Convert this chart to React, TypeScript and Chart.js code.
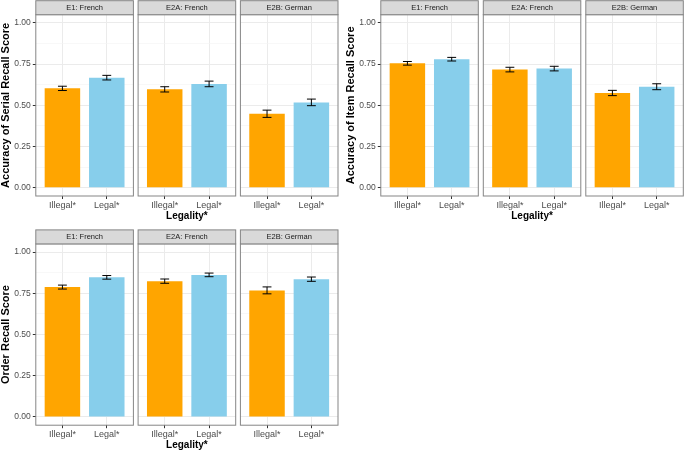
import React, { useEffect, useRef } from "react";
import { Chart, registerables } from "chart.js";

Chart.register(...registerables);

const FONT = '"Liberation Sans", Arial, Helvetica, sans-serif';

// Facet labels and x categories
const experiments = ["E1: French", "E2A: French", "E2B: German"];
const legalityLabels = ["Illegal*", "Legal*"];
const barColors = ["#FFA500", "#87CEEB"];

// y grid: majors every 0.25, minors halfway between
const yGridValues = [0, 0.125, 0.25, 0.375, 0.5, 0.625, 0.75, 0.875, 1];
const yMajorValues = [0, 0.25, 0.5, 0.75, 1];

// Serial recall accuracy (mean, standard error), one entry per experiment
const serialIllegal = [0.603, 0.597, 0.449];
const serialLegal = [0.668, 0.63, 0.518];
const serialIllegalSE = [0.013, 0.016, 0.022];
const serialLegalSE = [0.014, 0.017, 0.02];

// Item recall accuracy
const itemIllegal = [0.755, 0.717, 0.575];
const itemLegal = [0.78, 0.723, 0.613];
const itemIllegalSE = [0.011, 0.014, 0.016];
const itemLegalSE = [0.011, 0.014, 0.018];

// Order recall score
const orderIllegal = [0.788, 0.824, 0.768];
const orderLegal = [0.847, 0.862, 0.836];
const orderIllegalSE = [0.012, 0.013, 0.021];
const orderLegalSE = [0.011, 0.011, 0.013];

const isMajor = (v: number) => yMajorValues.some((m) => Math.abs(m - v) < 1e-6);

type FacetProps = {
  canvasLeft: number;
  canvasTop: number;
  canvasWidth: number;
  canvasHeight: number;
  panelLeft: number;
  panelTop: number;
  panelRight: number;
  panelBottom: number;
  strip: string;
  values: number[];
  errors: number[];
  yTitle?: string;
  xTitle?: string;
};

function Facet(p: FacetProps) {
  const ref = useRef<HTMLCanvasElement>(null);

  useEffect(() => {
    if (!ref.current) return;
    const yW = p.panelLeft - p.canvasLeft;
    const padTop = p.panelTop - p.canvasTop;
    const padRight = p.canvasLeft + p.canvasWidth - p.panelRight;
    const xH = p.canvasTop + p.canvasHeight - p.panelBottom;
    const showY = !!p.yTitle;
    const stripH = 14;

    const facetDecor = {
      id: "facetDecor",
      afterDatasetsDraw(chart: any) {
        const { ctx, scales } = chart;
        const xs = scales.x;
        const ys = scales.y;
        ctx.save();
        ctx.strokeStyle = "#000000";
        ctx.lineWidth = 1;
        p.values.forEach((v, i) => {
          const cx = xs.getPixelForValue(i + 1);
          const half = xs.getPixelForValue(i + 1.1) - cx;
          const yHi = ys.getPixelForValue(v + p.errors[i]);
          const yLo = ys.getPixelForValue(v - p.errors[i]);
          ctx.beginPath();
          ctx.moveTo(cx, yHi);
          ctx.lineTo(cx, yLo);
          ctx.moveTo(cx - half, yHi);
          ctx.lineTo(cx + half, yHi);
          ctx.moveTo(cx - half, yLo);
          ctx.lineTo(cx + half, yLo);
          ctx.stroke();
        });
        ctx.restore();
      },
      afterDraw(chart: any) {
        const { ctx, chartArea } = chart;
        const { left, top, right, bottom } = chartArea;
        ctx.save();
        // panel border
        ctx.strokeStyle = "#858585";
        ctx.lineWidth = 1;
        ctx.strokeRect(left, top, right - left, bottom - top);
        // strip
        ctx.fillStyle = "#D9D9D9";
        ctx.fillRect(left, top - stripH, right - left, stripH);
        ctx.strokeRect(left, top - stripH, right - left, stripH);
        ctx.fillStyle = "#1A1A1A";
        ctx.font = `7.5px ${FONT}`;
        ctx.textAlign = "center";
        ctx.textBaseline = "middle";
        ctx.fillText(p.strip, (left + right) / 2, top - stripH / 2 + 0.5);
        ctx.restore();
      },
    };

    const chart = new Chart(ref.current, {
      type: "bar",
      data: {
        datasets: [
          {
            data: p.values.map((v, i) => ({ x: i + 1, y: v })),
            backgroundColor: barColors,
            borderWidth: 0,
            barPercentage: 0.8,
            categoryPercentage: 1,
          } as any,
        ],
      },
      options: {
        responsive: false,
        animation: false,
        devicePixelRatio: 1,
        layout: { padding: { top: padTop, right: padRight, left: 0, bottom: 0 } },
        plugins: {
          legend: { display: false },
          tooltip: { enabled: false },
          title: { display: false },
        },
        scales: {
          x: {
            type: "linear",
            min: 0.4,
            max: 2.6,
            offset: false,
            afterBuildTicks: (s: any) => {
              s.ticks = legalityLabels.map((_, i) => ({ value: i + 1 }));
            },
            afterFit: (s: any) => {
              s.height = xH;
            },
            ticks: {
              callback: (v: any) => legalityLabels[Math.round(Number(v)) - 1],
              font: { family: FONT, size: 9 },
              color: "#4D4D4D",
              padding: 1,
              maxRotation: 0,
              autoSkip: false,
            },
            grid: {
              offset: false,
              color: "#EBEBEB",
              lineWidth: 1,
              tickLength: 3,
              tickColor: "#333333",
              tickWidth: 1,
            },
            border: { display: false },
            title: {
              display: !!p.xTitle,
              text: p.xTitle || "",
              font: { family: FONT, size: 10, weight: "bold", lineHeight: 1.2 },
              color: "#000000",
              padding: 0,
            },
          },
          y: {
            type: "linear",
            min: -0.05,
            max: 1.05,
            afterBuildTicks: (s: any) => {
              s.ticks = yGridValues.map((v) => ({ value: v }));
            },
            afterFit: (s: any) => {
              s.width = yW;
            },
            ticks: {
              display: showY,
              callback: (v: any) => (isMajor(Number(v)) ? Number(v).toFixed(2) : ""),
              font: { family: FONT, size: 8.5 },
              color: "#4D4D4D",
              padding: 2,
            },
            grid: {
              color: (c: any) => (isMajor(c.tick.value) ? "#EBEBEB" : "#F3F3F3"),
              lineWidth: (c: any) => (isMajor(c.tick.value) ? 1 : 0.6),
              drawTicks: showY,
              tickLength: 3,
              tickColor: (c: any) => (isMajor(c.tick.value) ? "#333333" : "rgba(0,0,0,0)"),
              tickWidth: 1,
            },
            border: { display: false },
            title: {
              display: showY,
              text: p.yTitle || "",
              font: { family: FONT, size: 11, weight: "bold", lineHeight: 1 },
              color: "#000000",
              padding: 0,
            },
          },
        },
      } as any,
      plugins: [facetDecor],
    });
    return () => chart.destroy();
  }, []);

  return (
    <canvas
      ref={ref}
      width={p.canvasWidth}
      height={p.canvasHeight}
      style={{
        position: "absolute",
        left: p.canvasLeft,
        top: p.canvasTop,
        width: p.canvasWidth,
        height: p.canvasHeight,
      }}
    />
  );
}

type GroupProps = {
  originLeft: number;
  panelLefts: number[];
  panelWidth: number;
  top: number;
  panelTop: number;
  panelBottom: number;
  height: number;
  yTitle: string;
  illegal: number[];
  legal: number[];
  illegalSE: number[];
  legalSE: number[];
};

function FacetGroup(g: GroupProps) {
  return (
    <>
      {experiments.map((name, i) => {
        const pl = g.panelLefts[i];
        const pr = pl + g.panelWidth;
        const cl = i === 0 ? g.originLeft : Math.floor(pl - 2);
        const cr = Math.ceil(pr + 1.5);
        return (
          <Facet
            key={name}
            canvasLeft={cl}
            canvasTop={g.top}
            canvasWidth={cr - cl}
            canvasHeight={g.height}
            panelLeft={pl}
            panelTop={g.panelTop}
            panelRight={pr}
            panelBottom={g.panelBottom}
            strip={name}
            values={[g.illegal[i], g.legal[i]]}
            errors={[g.illegalSE[i], g.legalSE[i]]}
            yTitle={i === 0 ? g.yTitle : undefined}
            xTitle={i === 1 ? "Legality*" : undefined}
          />
        );
      })}
    </>
  );
}

export default function App() {
  return (
    <div
      style={{
        position: "fixed",
        left: 0,
        top: 0,
        width: 685,
        height: 451,
        background: "#FFFFFF",
        overflow: "hidden",
      }}
    >
      <FacetGroup
        originLeft={0}
        panelLefts={[35.8, 138.1, 240.4]}
        panelWidth={97.6}
        top={0}
        panelTop={14.7}
        panelBottom={196}
        height={222}
        yTitle="Accuracy of Serial Recall Score"
        illegal={serialIllegal}
        legal={serialLegal}
        illegalSE={serialIllegalSE}
        legalSE={serialLegalSE}
      />
      <FacetGroup
        originLeft={345}
        panelLefts={[380.8, 483.3, 585.8]}
        panelWidth={97.5}
        top={0}
        panelTop={14.7}
        panelBottom={196}
        height={222}
        yTitle="Accuracy of Item Recall Score"
        illegal={itemIllegal}
        legal={itemLegal}
        illegalSE={itemIllegalSE}
        legalSE={itemLegalSE}
      />
      <FacetGroup
        originLeft={0}
        panelLefts={[35.8, 138.1, 240.4]}
        panelWidth={97.6}
        top={229}
        panelTop={243.9}
        panelBottom={425.2}
        height={222}
        yTitle="Order Recall Score"
        illegal={orderIllegal}
        legal={orderLegal}
        illegalSE={orderIllegalSE}
        legalSE={orderLegalSE}
      />
    </div>
  );
}
